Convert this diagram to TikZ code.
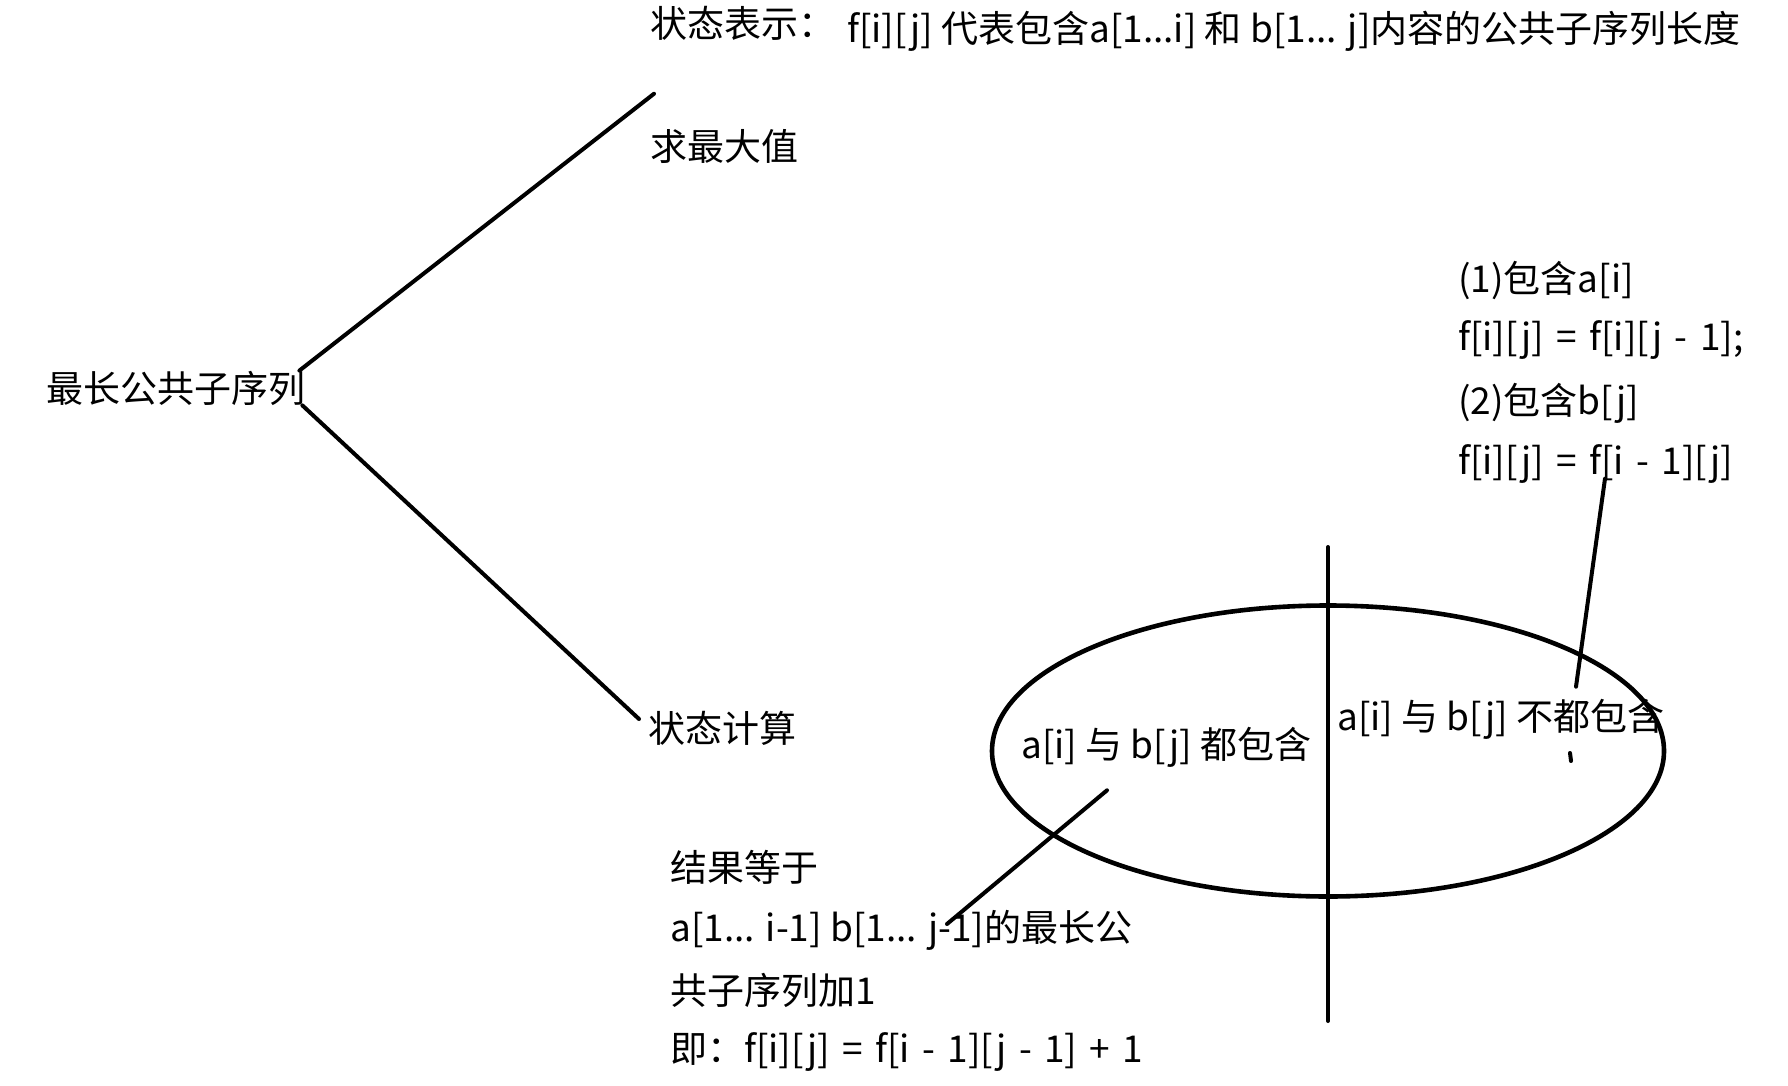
\documentclass[tikz,border=0pt]{standalone}
\usepackage{fontspec}
\setmainfont{Noto Sans CJK SC}
\newfontfamily\eqfont{Noto Sans CJK SC}[WordSpace=1.5]
\usetikzlibrary{positioning}

\begin{document}
\begin{tikzpicture}[x=1pt,y=-1pt,
txt/.style={anchor=west,inner sep=0pt,font=\fontsize{37}{44}\selectfont},
eqtxt/.style={txt,font=\eqfont\fontsize{37}{44}\selectfont},
stroke/.style={line width=4pt,line cap=round}]
\useasboundingbox (0,0) rectangle (1788,1086);
% tree
\node[txt] (lcs) at (46,388) {最长公共子序列};
\node[txt] (repr) at (650,23) {状态表示：};
\node[txt] (reprtext) at (847,31) {f[i][j] 代表包含a[1...i] 和 b[1... j]内容的公共子序列长度};
\node[txt] (maxval) at (650,146) {求最大值};
\node[txt] (calc) at (648,728) {状态计算};
\coordinate (maxtip) at ([xshift=4pt,yshift=35pt]maxval.north west);
\coordinate (calctip) at ([xshift=-9pt,yshift=9pt]calc.west);
\draw[stroke] ([xshift=-6pt]lcs.north east)--(maxtip);
\draw[stroke] ([xshift=-3pt]lcs.south east)--(calctip);
% split of the state
\coordinate (split) at (1328,751);
\coordinate (splittop) at (1328,547);
\coordinate (splitbot) at (1328,1021);
\draw[stroke,line width=4.6pt] (split) ellipse [x radius=336,y radius=145.5];
\draw[stroke] (splittop)--(splitbot);
\node[txt] (both) at (1021,747) {a[i] 与 b[j] 都包含};
\node[txt] (notboth) at (1337,719) {a[i] 与 b[j] 不都包含};
% cases of not both
\node[txt] (casea) at (1458,280) {(1)包含a[i]};
\node[eqtxt] (eqa) at (1458,340) {f[i][j] = f[i][j - 1];};
\node[txt] (caseb) at (1458,403) {(2)包含b[j]};
\node[eqtxt] (eqb) at (1458,464) {f[i][j] = f[i - 1][j]};
% result of both
\node[txt] (res) at (670,867) {结果等于};
\node[txt] (resa) at (670,930) {a[1... i-1] b[1... j-1]的最长公};
\node[txt] (resb) at (670,990) {共子序列加1};
\node[eqtxt] (resc) at (670,1052) {即：f[i][j] = f[i - 1][j - 1] + 1};
% pointers
\coordinate (eqbtip) at ([xshift=147pt,yshift=5pt]eqb.south west);
\coordinate (notbothtip) at ([xshift=239pt,yshift=12pt]notboth.north west);
\draw[stroke] (eqbtip)--(notbothtip);
\coordinate (bothtip) at ([xshift=86pt,yshift=-23pt]both.south west);
\coordinate (resatip) at ([xshift=277pt,yshift=6pt]resa.west);
\draw[stroke] (bothtip)--(resatip);
\draw[stroke] (1570,753)--(1571,761);
\end{tikzpicture}
\end{document}
